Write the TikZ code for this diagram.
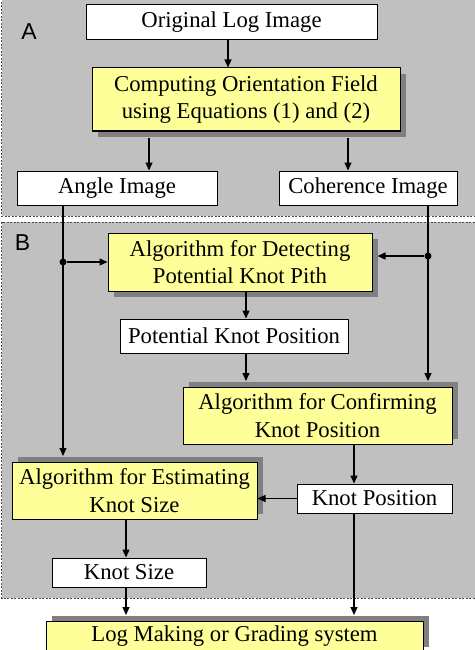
\documentclass[tikz,border=0pt]{standalone}
\usepackage{fontspec}
\setmainfont{Liberation Serif}
\newfontfamily\labelfont{Liberation Sans}
\usepackage{tikz}
\usetikzlibrary{arrows.meta}
\usetikzlibrary{shadows}
\usepackage{xcolor}
\definecolor{panelgray}{HTML}{C0C0C0}
\definecolor{boxyellow}{HTML}{FFFF99}
\definecolor{shadowgray}{HTML}{808080}

\begin{document}
\begin{tikzpicture}[x=1pt, y=-1pt, line width=1pt,
    >={Triangle[length=8pt,width=7pt]},
    box/.style={draw, fill=white, inner sep=0pt, align=center, font=\fontsize{22.7}{27.5}\selectfont},
    algo/.style={box, fill=boxyellow},
    shadowdown/.style={general shadow={fill=shadowgray, shadow xshift=6pt, shadow yshift=-6pt}},
    shadowup/.style={general shadow={fill=shadowgray, shadow xshift=5.5pt, shadow yshift=5.5pt}},
    panel/.style={fill=panelgray, draw=gray!60!black, line width=0.8pt, dash pattern=on 2pt off 1.5pt},
    panellabel/.style={font=\labelfont\fontsize{23}{23}\selectfont},
    junction/.style={circle, fill=black, inner sep=0pt, minimum size=7pt},
    link/.style={->, line width=1.1pt},
    toshadow/.style={shorten >=5.5pt}]
    \useasboundingbox (0,0) rectangle (474,650);

    % Panels A and B
    \path[panel] (1.5,-5) rectangle (478,216);
    \path[panel] (1.5,222) rectangle (478,598);
    \node[panellabel] (labA) at (29,32) {A};
    \node[panellabel] (labB) at (22.5,243) {B};

    % Part A: orientation field
    \node[box, minimum width=291pt, minimum height=35pt] (orig) at (231.5,22.5) {Original Log Image};
    \node[algo, shadowdown, minimum width=308pt, minimum height=63pt] (orient) at (246,99.5)
        {Computing Orientation Field\\using Equations (1) and (2)};
    \node[box, minimum width=200pt, minimum height=34pt] (angle) at (117,188) {Angle Image};
    \node[box, minimum width=178pt, minimum height=34pt] (coher) at (368,188) {Coherence Image};

    % Part B: knot detection
    \node[algo, shadowdown, minimum width=264pt, minimum height=58pt] (detect) at (240,262)
        {Algorithm for Detecting\\Potential Knot Pith};
    \node[box, minimum width=228pt, minimum height=34pt] (potpos) at (234,336) {Potential Knot Position};
    \node[algo, shadowup, minimum width=269pt, minimum height=57pt] (confirm) at (317.5,415.5)
        {Algorithm for Confirming\\Knot Position};
    \node[algo, shadowup, minimum width=245pt, minimum height=57pt] (estim) at (134.5,490.5)
        {Algorithm for Estimating\\Knot Size};
    \node[box, minimum width=155pt, minimum height=29pt] (knotpos) at (374.5,498.5) {Knot Position};
    \node[box, minimum width=154pt, minimum height=29pt] (knotsize) at (129,572.5) {Knot Size};
    \node[algo, shadowup, minimum width=377pt, minimum height=31pt] (logsys) at (234.5,636.5)
        {Log Making or Grading system};

    \node[junction] (jl) at (63,262) {};
    \node[junction] (jr) at (428,256) {};

    % columns of the vertical links
    \coordinate (colorig) at (228,0);
    \coordinate (colangle) at (149,0);
    \coordinate (colcoher) at (348,0);
    \coordinate (colpot) at (246,0);
    \coordinate (colknot) at (354,0);
    \coordinate (colsize) at (126,0);

    \draw[link] (orig.south -| colorig) -- (orient.north -| colorig);
    \draw[link, shorten <=6pt] (orient.south -| colangle) -- (angle.north -| colangle);
    \draw[link, shorten <=6pt] (orient.south -| colcoher) -- (coher.north -| colcoher);
    \draw[link, toshadow] (angle.south -| jl) -- (jl.center) -- (estim.north -| jl);
    \draw[link, toshadow] (coher.south -| jr) -- (jr.center) -- (confirm.north -| jr);
    \draw[link] (jl) -- (detect.west |- jl);
    \draw[link, shorten >=5pt] (jr) -- (detect.east |- jr);
    \draw[link] (detect.south -| colpot) -- (potpos.north -| colpot);
    \draw[link, toshadow] (potpos.south -| colpot) -- (confirm.north -| colpot);
    \draw[link] (confirm.south -| colknot) -- (knotpos.north -| colknot);
    \draw[link] (knotpos.west) -- (knotpos.west -| estim.east);
    \draw[link] (estim.south -| colsize) -- (knotsize.north -| colsize);
    \draw[link, toshadow] (knotsize.south -| colsize) -- (logsys.north -| colsize);
    \draw[link, toshadow] (knotpos.south -| colknot) -- (logsys.north -| colknot);
\end{tikzpicture}
\end{document}
